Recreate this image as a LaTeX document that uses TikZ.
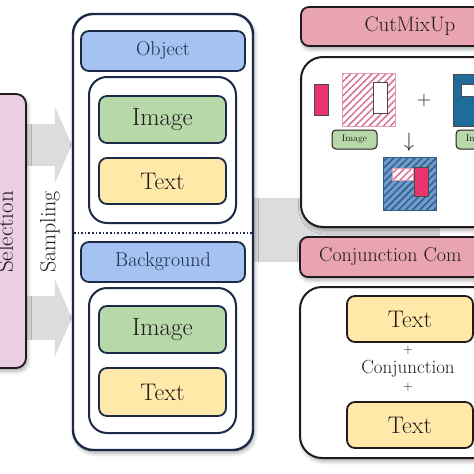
\documentclass[tikz,border=0pt]{standalone}
\usepackage{fontspec}
\usetikzlibrary{shadows.blur,patterns.meta,arrows.meta,calc}
\pgfdeclarelayer{bg}\pgfsetlayers{bg,main}
\definecolor{navy}{HTML}{1B2A47}
\definecolor{selpink}{HTML}{EACFE2}
\definecolor{objblue}{HTML}{A5C3F2}
\definecolor{imggreen}{HTML}{B7D8A9}
\definecolor{txtyellow}{HTML}{FFE9A8}
\definecolor{titlepink}{HTML}{E8A5B1}
\definecolor{arrowgray}{HTML}{DCDCDC}
\definecolor{crimson}{HTML}{E8336D}
\definecolor{steel}{HTML}{1F6B9A}
\definecolor{hatchpink}{HTML}{D9708E}
\definecolor{hatchbluebg}{HTML}{6F9BC8}
\definecolor{hatchblueln}{HTML}{2F5F8E}
\definecolor{ink}{HTML}{231A1E}
\newcommand\myfs[1]{\fontsize{#1}{#1}\selectfont}
\begin{document}
\begin{tikzpicture}[x=1pt,y=-1pt,
  shad/.style={blur shadow={shadow xshift=1.5pt,shadow yshift=-3pt,shadow blur radius=4pt,shadow opacity=35}},
  nbox/.style={draw=navy,line width=1.8pt,rounded corners=8pt,inner sep=0pt,text=navy},
  bbox/.style={draw=ink,line width=1.8pt,rounded corners=8pt,inner sep=0pt,text=ink},
  bigbox/.style={draw=navy,line width=2.4pt,rounded corners=20pt,inner sep=0pt,fill=white},
  innerbox/.style={draw=navy,line width=2pt,rounded corners=18pt,inner sep=0pt},
  rbig/.style={draw=ink,line width=2pt,rounded corners=22pt,inner sep=0pt,fill=white},
  garrow/.style={draw=arrowgray},
  smallrect/.style={draw=ink!80,line width=0.8pt,inner sep=0pt},
  plain/.style={inner sep=0pt,text=ink},
]
\useasboundingbox (0,0) rectangle (474,474);
\clip (0,0) rectangle (474,474);

% left selection
\node[bbox,fill=selpink,rounded corners=10pt,minimum width=46pt,minimum height=274pt,shad] (sel) at (3,231) {};
\node[plain,rotate=90] (seltxt) at (5,232) {\myfs{23}Selection};
\node[plain,rotate=90] (samp) at (50,232) {\myfs{22}Sampling};

% middle
\node[bigbox,minimum width=180pt,minimum height=436pt,shad] (outer) at (163,232) {};
\node[nbox,fill=objblue,minimum width=164pt,minimum height=40pt] (obj) at (163,51) {\myfs{20}Object};
\node[innerbox,minimum width=147pt,minimum height=146pt] (in1) at (162.5,150) {};
\node[nbox,fill=imggreen,minimum width=127pt,minimum height=47pt,text=ink] (img1) at (162.5,119.5) {\myfs{25}Image};
\node[nbox,fill=txtyellow,minimum width=127pt,minimum height=46pt,text=ink] (txt1) at (162.5,181) {\myfs{24}Text};
\coordinate (dl) at (74,233);
\coordinate (dr) at (252,233);
\draw[navy,line width=1.6pt,dash pattern=on 1.6pt off 2pt] (dl) -- (dr);
\node[nbox,fill=objblue,minimum width=164pt,minimum height=40pt] (bgl) at (163,262) {\myfs{20}Background};
\node[innerbox,minimum width=147pt,minimum height=145pt] (in2) at (162.5,360.5) {};
\node[nbox,fill=imggreen,minimum width=127pt,minimum height=47pt,text=ink] (img2) at (162.5,329.5) {\myfs{25}Image};
\node[nbox,fill=txtyellow,minimum width=127pt,minimum height=48pt,text=ink] (txt2) at (162.5,392) {\myfs{24}Text};

% right
\coordinate (rend) at (440,230);
\node[bbox,fill=titlepink,minimum width=218pt,minimum height=39pt,shad] (cmt) at (410,26.5) {\myfs{21}CutMixUp};
\node[rbig,minimum width=218pt,minimum height=170pt,shad] (cmb) at (410,142) {};
\node[bbox,fill=titlepink,minimum width=220pt,minimum height=40pt,shad] (cjt) at (410,257) {};
\node[plain,anchor=west] (cjtxt) at (319,257) {\myfs{20}Conjunction Com};
\node[rbig,minimum width=220pt,minimum height=171pt,shad] (cjb) at (410,372.5) {};

% cutmix content
\node[smallrect,fill=crimson,minimum width=14pt,minimum height=31pt] (p1) at (321,99.5) {};
\node[smallrect,draw=hatchpink!70,preaction={fill=white},pattern={Lines[angle=45,distance=5pt,line width=1.5pt]},pattern color=hatchpink,minimum width=53pt,minimum height=53pt] (hs) at (368.5,99.5) {};
\node[smallrect,fill=white,minimum width=14pt,minimum height=31pt] (hw) at (380,97.5) {};
\node[plain] (plus0) at (424,101) {\myfs{20}+};
\node[smallrect,fill=steel,minimum width=53pt,minimum height=52pt] (bs) at (479.5,100) {};
\node[smallrect,fill=white,minimum width=30pt,minimum height=12pt] (bw) at (476,90) {};
\node[bbox,fill=imggreen,line width=1pt,rounded corners=4pt,minimum width=45pt,minimum height=19pt] (l1) at (354.5,139.5) {\myfs{9.5}Image};
\node[bbox,fill=imggreen,line width=1pt,rounded corners=4pt,minimum width=45pt,minimum height=19pt] (l2) at (478.5,139.5) {\myfs{9.5}Image};
\node[plain] (down) at (409,142) {\myfs{20}$\downarrow$};
\node[smallrect,draw=hatchblueln,preaction={fill=hatchbluebg},pattern={Lines[angle=45,distance=5pt,line width=1.5pt]},pattern color=hatchblueln,minimum width=53pt,minimum height=53pt] (rs) at (409.5,183.5) {};
\node[smallrect,draw=hatchpink!70,preaction={fill=white},pattern={Lines[angle=45,distance=5pt,line width=1.5pt]},pattern color=hatchpink,minimum width=21pt,minimum height=12pt] (rp) at (402.5,174) {};
\node[smallrect,fill=crimson,minimum width=14pt,minimum height=29pt] (rc) at (421,181.5) {};

% conjunction content
\node[bbox,fill=txtyellow,minimum width=126pt,minimum height=46pt] (tr1) at (410,319) {\myfs{24}Text};
\node[plain] (pl1) at (408,350) {\myfs{13}+};
\node[plain] (cjw) at (408,369) {\myfs{19}Conjunction};
\node[plain] (pl2) at (408,387) {\myfs{13}+};
\node[bbox,fill=txtyellow,minimum width=126pt,minimum height=46pt] (tr2) at (410,425) {\myfs{24}Text};

% gray block arrows
\begin{pgfonlayer}{bg}
\draw[garrow,line width=42pt,-{Triangle[length=17pt,width=76pt]}] (sel.east |- 0,145) -- (outer.west |- 0,145);
\draw[garrow,line width=44pt,-{Triangle[length=17pt,width=77pt]}] (sel.east |- 0,318) -- (outer.west |- 0,318);
\draw[garrow,line width=64pt] (outer.east |- 0,230) -- (rend);
\end{pgfonlayer}
\end{tikzpicture}
\end{document}
